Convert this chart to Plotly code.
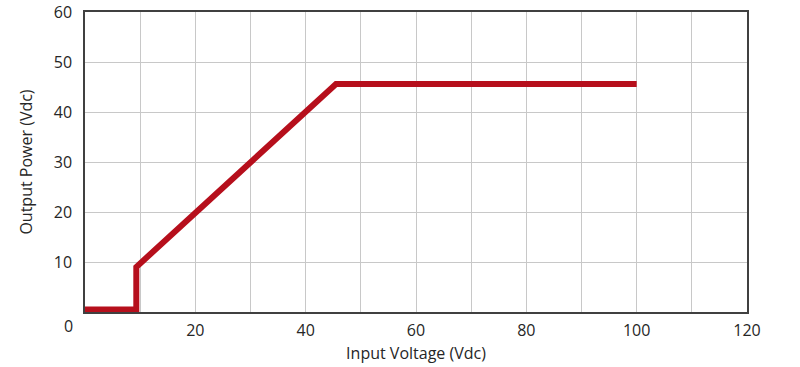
import plotly.graph_objects as go

input_voltage = [0, 9.3, 9.3, 45.5, 100]
output_power = [0.5, 0.5, 9, 45.6, 45.6]
x_ticks = [20, 40, 60, 80, 100, 120]
y_ticks = [10, 20, 30, 40, 50, 60]

font_family = "Open Sans, Liberation Sans, sans-serif"

fig = go.Figure()
fig.add_trace(go.Scatter(
    x=input_voltage, y=output_power, mode="lines",
    line=dict(color="#B60F1C", width=6, shape="linear"),
    showlegend=False, hoverinfo="skip",
))

fig.update_layout(
    width=800, height=367,
    margin=dict(l=85, r=53, t=12, b=55, autoexpand=False),
    paper_bgcolor="white", plot_bgcolor="white",
    font=dict(family=font_family, size=16, color="#262626"),
    xaxis=dict(
        range=[0, 120], tickvals=x_ticks, ticktext=[str(v) for v in x_ticks],
        showgrid=True, gridcolor="#C8C8C8", gridwidth=1,
        minor=dict(showgrid=True, gridcolor="#C8C8C8", gridwidth=1, dtick=10),
        showline=True, linecolor="#404040", linewidth=1.5, mirror=True,
        ticks="", ticklabelstandoff=3, zeroline=False, automargin=False,
        title=dict(text="Input Voltage (Vdc)", font=dict(size=16), standoff=8),
    ),
    yaxis=dict(
        range=[0, 60], tickvals=y_ticks, ticktext=[str(v) for v in y_ticks],
        showgrid=True, gridcolor="#C8C8C8", gridwidth=1,
        showline=True, linecolor="#404040", linewidth=1.5, mirror=True,
        ticks="", ticklabelstandoff=8, zeroline=False, automargin=False,
        title=dict(text="Output Power (Vdc)", font=dict(size=16), standoff=17),
    ),
    annotations=[dict(
        x=0, y=0, xref="x", yref="y", text="0", showarrow=False,
        xshift=-17, yshift=-14, font=dict(size=16, color="#262626"),
    )],
)

fig.write_html("out.html")
